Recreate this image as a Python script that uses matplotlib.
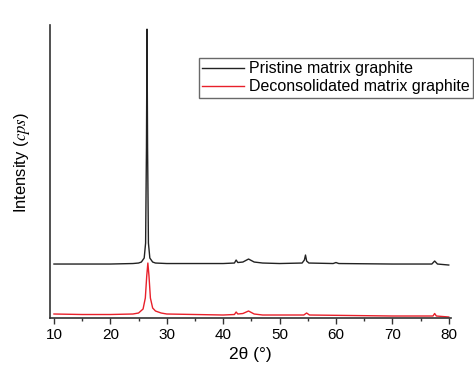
import matplotlib
matplotlib.use("Agg")
import matplotlib.pyplot as plt
from matplotlib.ticker import MultipleLocator

plt.rcParams["font.family"] = ["Liberation Sans", "DejaVu Sans"]
plt.rcParams["mathtext.fontset"] = "stix"

# XRD patterns (2theta in degrees, intensity in arbitrary units)
pristine_2theta = [10, 15, 20, 24, 25.0, 25.5, 26.0, 26.25, 26.4, 26.5, 26.6, 26.75, 27.0, 27.5, 28,
                   30, 35, 40, 42.0, 42.3, 42.6, 43.5, 44.5, 45.5, 47, 50, 54.0, 54.4, 54.6, 54.8,
                   55.2, 59.5, 60, 60.5, 70, 77.0, 77.5, 78.0, 80]
pristine_int = [54, 54, 54, 54.5, 55, 56, 60, 75, 170, 289, 170, 75, 60, 56, 55,
                54.5, 54.5, 54.5, 55, 58, 55.5, 56, 59, 56, 55, 54.5, 55, 58, 63, 57,
                55, 54.5, 55.5, 54.5, 54, 54, 57, 54, 53]

deconsolidated_2theta = [10, 15, 20, 24, 25, 25.8, 26.2, 26.45, 26.65, 26.85, 27.1, 27.5, 28, 29,
                         30, 40, 42.0, 42.3, 42.6, 43.5, 44.5, 45.5, 47, 54.3, 54.8, 55.3, 70,
                         77.2, 77.5, 77.8, 80]
deconsolidated_int = [4, 3.5, 3.5, 4, 5, 9, 20, 42, 55, 42, 20, 10, 7, 5,
                      4, 3, 3.5, 6, 4, 4.5, 7, 4, 3, 3, 5, 3, 2,
                      2, 4.5, 2, 1]

labels = ["Pristine matrix graphite", "Deconsolidated matrix graphite"]
colors = ["#222222", "#e8202a"]

fig = plt.figure(figsize=(4.74, 3.67), dpi=100)
ax = fig.add_axes([0.1055, 0.1335, 0.846, 0.798])

ax.plot(pristine_2theta, pristine_int, color=colors[0], lw=1.0, label=labels[0])
ax.plot(deconsolidated_2theta, deconsolidated_int, color=colors[1], lw=1.0, label=labels[1])

ax.set_xlim(9.3, 80.4)
ax.set_ylim(0, 293)
ax.spines["top"].set_visible(False)
ax.spines["right"].set_visible(False)
for s in ["left", "bottom"]:
    ax.spines[s].set_color("#333333")
    ax.spines[s].set_linewidth(1.2)
ax.set_yticks([])
ax.xaxis.set_major_locator(MultipleLocator(10))
ax.xaxis.set_minor_locator(MultipleLocator(5))
ax.tick_params(axis="x", which="major", length=4, width=1, color="#333333", labelsize=11, pad=3)
ax.tick_params(axis="x", which="minor", length=2.5, width=1, color="#333333")

ax.set_xlabel("2θ (°)", fontsize=12.5, labelpad=4)
ax.set_ylabel("Intensity ($\\mathit{cps}$)", fontsize=12, labelpad=10)
ax.yaxis.set_label_coords(-0.046, 0.53)

leg = fig.legend(loc="upper right", bbox_to_anchor=(0.997, 0.842), fontsize=11.5,
                 frameon=True, fancybox=False, edgecolor="#444444", handlelength=2.6,
                 borderpad=0.2, labelspacing=0.2, handletextpad=0.3, borderaxespad=0)
leg.get_frame().set_linewidth(1.0)

fig.savefig("out.png", dpi=100)
